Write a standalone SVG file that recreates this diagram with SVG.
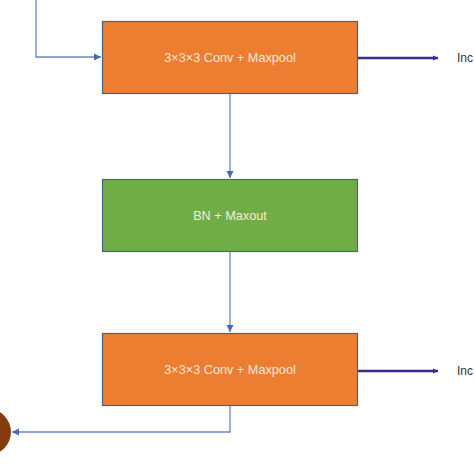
<svg xmlns="http://www.w3.org/2000/svg" width="474" height="474" viewBox="0 0 474 474">
<style>
.box{stroke:#4a6384;stroke-width:1.2}
.orange{fill:#ed7d31}
.green{fill:#70ad47}
.lbl{font-family:"Liberation Sans",Arial,sans-serif;font-size:12.7px;fill:#fbe9dc;text-anchor:middle;dominant-baseline:central}
.conn{fill:none;stroke:#6a86c4;stroke-width:1.3}
.out{fill:none;stroke:#3b2a8c;stroke-width:2.6}
.side{font-family:"Liberation Sans",Arial,sans-serif;font-size:12px;fill:#333}
</style>
<defs>
<marker id="ah" markerWidth="8" markerHeight="8" refX="7" refY="4" orient="auto" markerUnits="userSpaceOnUse">
<path d="M0,0.5 L7,4 L0,7.5 Z" fill="#4468b8"/>
</marker>
<marker id="ah2" markerWidth="6" markerHeight="6" refX="5" refY="3" orient="auto" markerUnits="userSpaceOnUse">
<path d="M0,0.5 L5,3 L0,5.5 Z" fill="#3b2a8c"/>
</marker>
</defs>
<rect width="474" height="474" fill="#ffffff"/>
<g id="connectors">
<path class="conn" d="M36,0 V57 H101" marker-end="url(#ah)"/>
<path class="conn" d="M230,93 V178" marker-end="url(#ah)"/>
<path class="conn" d="M230,251 V332" marker-end="url(#ah)"/>
<path class="conn" d="M230,405 V432 H12" marker-end="url(#ah)"/>
<path class="out" d="M358,58 H438" marker-end="url(#ah2)"/>
<path class="out" d="M358,371 H438" marker-end="url(#ah2)"/>
</g>
<g id="node-conv1">
<rect class="box orange" x="102.5" y="21.5" width="255" height="72"/>
<text class="lbl" x="230" y="58">3×3×3 Conv + Maxpool</text>
</g>
<g id="node-bn">
<rect class="box green" x="102.5" y="179.5" width="255" height="72"/>
<text class="lbl" x="230" y="216">BN + Maxout</text>
</g>
<g id="node-conv2">
<rect class="box orange" x="102.5" y="333.5" width="255" height="72"/>
<text class="lbl" x="230" y="370">3×3×3 Conv + Maxpool</text>
</g>
<g id="node-circle">
<circle cx="-12" cy="432" r="23" fill="#843c0c"/>
</g>
<g id="label-top"><text class="side" x="457" y="62">Inc</text></g>
<g id="label-bottom"><text class="side" x="457" y="375">Inc</text></g>
</svg>
